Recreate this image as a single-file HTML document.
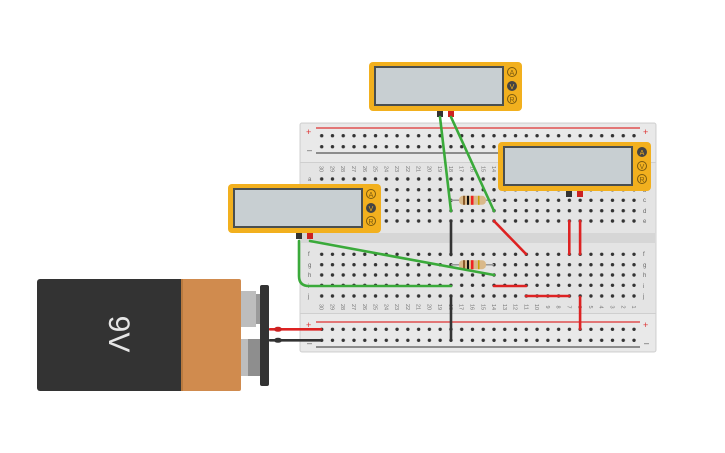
<!DOCTYPE html>
<html><head><meta charset="utf-8"><style>html,body{margin:0;padding:0;background:#fff}svg{display:block}</style></head>
<body>
<svg width="725" height="453" viewBox="0 0 725 453" xmlns="http://www.w3.org/2000/svg" font-family="Liberation Sans, sans-serif">
<defs>
<pattern id="hole" x="316.3" y="0" width="10.77" height="453" patternUnits="userSpaceOnUse">
<g fill="#333">
<circle cx="5.4" cy="135.7" r="1.7"/><circle cx="5.4" cy="146.7" r="1.7"/>
<circle cx="5.4" cy="179" r="1.7"/><circle cx="5.4" cy="189.7" r="1.7"/><circle cx="5.4" cy="200.3" r="1.7"/><circle cx="5.4" cy="210.7" r="1.7"/><circle cx="5.4" cy="221" r="1.7"/>
<circle cx="5.4" cy="254.3" r="1.7"/><circle cx="5.4" cy="264.7" r="1.7"/><circle cx="5.4" cy="275" r="1.7"/><circle cx="5.4" cy="285.3" r="1.7"/><circle cx="5.4" cy="296" r="1.7"/>
<circle cx="5.4" cy="329.3" r="1.7"/><circle cx="5.4" cy="340.3" r="1.7"/>
</g>
</pattern>
</defs>
<!-- breadboard -->
<rect x="300" y="123" width="356" height="229" rx="2" fill="#e4e4e4" stroke="#d0d0d0"/>
<rect x="301" y="124" width="354" height="38" fill="#e9e9e9"/>
<rect x="301" y="313" width="354" height="38" fill="#e9e9e9"/>
<line x1="300" y1="162.5" x2="656" y2="162.5" stroke="#cfcfcf"/>
<line x1="300" y1="313.5" x2="656" y2="313.5" stroke="#cfcfcf"/>
<rect x="301" y="233" width="354" height="10" fill="#d6d6d6"/>
<line x1="316" y1="128" x2="640" y2="128" stroke="#d33" stroke-width="1.2"/>
<line x1="316" y1="153" x2="640" y2="153" stroke="#555" stroke-width="1.2"/>
<line x1="316" y1="322" x2="640" y2="322" stroke="#d33" stroke-width="1.2"/>
<line x1="316" y1="347" x2="640" y2="347" stroke="#555" stroke-width="1.2"/>
<g font-size="9" fill="#d33"><text x="306" y="135">+</text><text x="643" y="135">+</text><text x="306" y="328">+</text><text x="643" y="328">+</text></g>
<g font-size="9" fill="#555"><text x="307" y="153">–</text><text x="644" y="153">–</text><text x="307" y="346">–</text><text x="644" y="346">–</text></g>
<rect x="316.3" y="125" width="323" height="225" fill="url(#hole)"/>
<g font-size="6" fill="#666">
<text x="308" y="181">a</text><text x="308" y="192">b</text><text x="308" y="202">c</text><text x="308" y="213">d</text><text x="308" y="223">e</text>
<text x="308" y="256">f</text><text x="308" y="267">g</text><text x="308" y="277">h</text><text x="308" y="288">i</text><text x="308" y="298">j</text>
<text x="643" y="181">a</text><text x="643" y="192">b</text><text x="643" y="202">c</text><text x="643" y="213">d</text><text x="643" y="223">e</text>
<text x="643" y="256">f</text><text x="643" y="267">g</text><text x="643" y="277">h</text><text x="643" y="288">i</text><text x="643" y="298">j</text>
</g>
<g font-size="5.5" fill="#777" text-anchor="middle">
<text transform="translate(321.7,169) rotate(90)" dy="2">30</text><text transform="translate(332.5,169) rotate(90)" dy="2">29</text><text transform="translate(343.2,169) rotate(90)" dy="2">28</text><text transform="translate(354.0,169) rotate(90)" dy="2">27</text><text transform="translate(364.8,169) rotate(90)" dy="2">26</text><text transform="translate(375.6,169) rotate(90)" dy="2">25</text><text transform="translate(386.3,169) rotate(90)" dy="2">24</text><text transform="translate(397.1,169) rotate(90)" dy="2">23</text><text transform="translate(407.9,169) rotate(90)" dy="2">22</text><text transform="translate(418.6,169) rotate(90)" dy="2">21</text><text transform="translate(429.4,169) rotate(90)" dy="2">20</text><text transform="translate(440.2,169) rotate(90)" dy="2">19</text><text transform="translate(450.9,169) rotate(90)" dy="2">18</text><text transform="translate(461.7,169) rotate(90)" dy="2">17</text><text transform="translate(472.5,169) rotate(90)" dy="2">16</text><text transform="translate(483.3,169) rotate(90)" dy="2">15</text><text transform="translate(494.0,169) rotate(90)" dy="2">14</text><text transform="translate(504.8,169) rotate(90)" dy="2">13</text><text transform="translate(515.6,169) rotate(90)" dy="2">12</text><text transform="translate(526.3,169) rotate(90)" dy="2">11</text><text transform="translate(537.1,169) rotate(90)" dy="2">10</text><text transform="translate(547.9,169) rotate(90)" dy="2">9</text><text transform="translate(558.7,169) rotate(90)" dy="2">8</text><text transform="translate(569.4,169) rotate(90)" dy="2">7</text><text transform="translate(580.2,169) rotate(90)" dy="2">6</text><text transform="translate(591.0,169) rotate(90)" dy="2">5</text><text transform="translate(601.7,169) rotate(90)" dy="2">4</text><text transform="translate(612.5,169) rotate(90)" dy="2">3</text><text transform="translate(623.3,169) rotate(90)" dy="2">2</text><text transform="translate(634.0,169) rotate(90)" dy="2">1</text>
<text transform="translate(321.7,307) rotate(90)" dy="2">30</text><text transform="translate(332.5,307) rotate(90)" dy="2">29</text><text transform="translate(343.2,307) rotate(90)" dy="2">28</text><text transform="translate(354.0,307) rotate(90)" dy="2">27</text><text transform="translate(364.8,307) rotate(90)" dy="2">26</text><text transform="translate(375.6,307) rotate(90)" dy="2">25</text><text transform="translate(386.3,307) rotate(90)" dy="2">24</text><text transform="translate(397.1,307) rotate(90)" dy="2">23</text><text transform="translate(407.9,307) rotate(90)" dy="2">22</text><text transform="translate(418.6,307) rotate(90)" dy="2">21</text><text transform="translate(429.4,307) rotate(90)" dy="2">20</text><text transform="translate(440.2,307) rotate(90)" dy="2">19</text><text transform="translate(450.9,307) rotate(90)" dy="2">18</text><text transform="translate(461.7,307) rotate(90)" dy="2">17</text><text transform="translate(472.5,307) rotate(90)" dy="2">16</text><text transform="translate(483.3,307) rotate(90)" dy="2">15</text><text transform="translate(494.0,307) rotate(90)" dy="2">14</text><text transform="translate(504.8,307) rotate(90)" dy="2">13</text><text transform="translate(515.6,307) rotate(90)" dy="2">12</text><text transform="translate(526.3,307) rotate(90)" dy="2">11</text><text transform="translate(537.1,307) rotate(90)" dy="2">10</text><text transform="translate(547.9,307) rotate(90)" dy="2">9</text><text transform="translate(558.7,307) rotate(90)" dy="2">8</text><text transform="translate(569.4,307) rotate(90)" dy="2">7</text><text transform="translate(580.2,307) rotate(90)" dy="2">6</text><text transform="translate(591.0,307) rotate(90)" dy="2">5</text><text transform="translate(601.7,307) rotate(90)" dy="2">4</text><text transform="translate(612.5,307) rotate(90)" dy="2">3</text><text transform="translate(623.3,307) rotate(90)" dy="2">2</text><text transform="translate(634.0,307) rotate(90)" dy="2">1</text>
</g>
<!-- multimeter right -->
<g>
<rect x="498" y="142" width="153" height="49" rx="4" fill="#f2b01e"/>
<rect x="504" y="147" width="128" height="38" fill="#c8cfd2" stroke="#4a4f50" stroke-width="2"/>
<circle cx="642" cy="152" r="5" fill="#444"/><text x="642" y="155" font-size="7" fill="#f2b01e" text-anchor="middle">A</text>
<circle cx="642" cy="166" r="4.5" fill="none" stroke="#7a5a10"/><text x="642" y="169" font-size="7" fill="#7a5a10" text-anchor="middle">V</text>
<circle cx="642" cy="179" r="4.5" fill="none" stroke="#7a5a10"/><text x="642" y="182" font-size="7" fill="#7a5a10" text-anchor="middle">R</text>
<rect x="566" y="191" width="6" height="6" fill="#333"/><rect x="577" y="191" width="6" height="6" fill="#c22"/>
</g>
<!-- multimeter left -->
<g>
<rect x="228" y="184" width="153" height="49" rx="4" fill="#f2b01e"/>
<rect x="234" y="189" width="128" height="38" fill="#c8cfd2" stroke="#4a4f50" stroke-width="2"/>
<circle cx="371" cy="194" r="4.5" fill="none" stroke="#7a5a10"/><text x="371" y="197" font-size="7" fill="#7a5a10" text-anchor="middle">A</text>
<circle cx="371" cy="208" r="5" fill="#444"/><text x="371" y="211" font-size="7" fill="#f2b01e" text-anchor="middle">V</text>
<circle cx="371" cy="221" r="4.5" fill="none" stroke="#7a5a10"/><text x="371" y="224" font-size="7" fill="#7a5a10" text-anchor="middle">R</text>
<rect x="296" y="233" width="6" height="6" fill="#333"/><rect x="307" y="233" width="6" height="6" fill="#c22"/>
</g>
<!-- multimeter top -->
<g>
<rect x="369" y="62" width="153" height="49" rx="4" fill="#f2b01e"/>
<rect x="375" y="67" width="128" height="38" fill="#c8cfd2" stroke="#4a4f50" stroke-width="2"/>
<circle cx="512" cy="72" r="4.5" fill="none" stroke="#7a5a10"/><text x="512" y="75" font-size="7" fill="#7a5a10" text-anchor="middle">A</text>
<circle cx="512" cy="86" r="5" fill="#444"/><text x="512" y="89" font-size="7" fill="#f2b01e" text-anchor="middle">V</text>
<circle cx="512" cy="99" r="4.5" fill="none" stroke="#7a5a10"/><text x="512" y="102" font-size="7" fill="#7a5a10" text-anchor="middle">R</text>
<rect x="437" y="111" width="6" height="6" fill="#333"/><rect x="448" y="111" width="6" height="6" fill="#c22"/>
</g>
<!-- resistors -->
<g>
<line x1="451" y1="200.3" x2="494" y2="200.3" stroke="#999" stroke-width="1.5"/>
<rect x="459" y="195.8" width="27" height="9" rx="4" fill="#d9b98a"/>
<rect x="463" y="195.8" width="2" height="9" fill="#8a5a2a"/><rect x="467" y="195.8" width="2" height="9" fill="#111"/><rect x="471" y="195.8" width="2.5" height="9" fill="#e22"/><rect x="478" y="195.8" width="1.5" height="9" fill="#c9a000"/>
<line x1="451" y1="264.7" x2="494" y2="264.7" stroke="#999" stroke-width="1.5"/>
<rect x="459" y="260.2" width="27" height="9" rx="4" fill="#d9b98a"/>
<rect x="463" y="260.2" width="2" height="9" fill="#8a5a2a"/><rect x="467" y="260.2" width="2" height="9" fill="#111"/><rect x="471" y="260.2" width="2.5" height="9" fill="#e22"/><rect x="478" y="260.2" width="1.5" height="9" fill="#c9a000"/>
</g>
<!-- wires -->
<g stroke-width="2.6" fill="none" stroke-linecap="round">
<line x1="451" y1="221" x2="451" y2="255" stroke="#333"/>
<line x1="451" y1="297" x2="451" y2="340" stroke="#333"/>
<line x1="494" y1="221" x2="526" y2="254" stroke="#d22"/>
<line x1="569.3" y1="221" x2="569.3" y2="254" stroke="#d22"/>
<line x1="580.1" y1="221" x2="580.1" y2="254" stroke="#d22"/>
<line x1="494" y1="286" x2="526" y2="286" stroke="#d22"/>
<line x1="526" y1="296" x2="569" y2="296" stroke="#d22"/>
<line x1="580.1" y1="297" x2="580.1" y2="329" stroke="#d22"/>
<line x1="440" y1="117" x2="451" y2="211" stroke="#3aaa3a"/>
<line x1="451" y1="117" x2="494" y2="211" stroke="#3aaa3a"/>
<line x1="310" y1="241" x2="494" y2="275" stroke="#3aaa3a"/>
<path d="M299 241 V276 Q299 286 309 286 H451" stroke="#3aaa3a"/>
<line x1="270" y1="329.3" x2="321" y2="329.3" stroke="#d22"/>
<line x1="270" y1="340.3" x2="321" y2="340.3" stroke="#333"/>
</g>
<ellipse cx="278" cy="329.3" rx="4" ry="2.5" fill="#c22"/>
<ellipse cx="278" cy="340.3" rx="4" ry="2.5" fill="#333"/>
<!-- battery -->
<rect x="37" y="279" width="150" height="112" rx="3" fill="#333"/>
<rect x="181" y="279" width="60" height="112" rx="2" fill="#d08b4e"/>
<rect x="181" y="279" width="2" height="112" fill="#b87a40"/>
<rect x="241" y="291" width="15" height="36" fill="#bdbdbd"/>
<rect x="256" y="294" width="5" height="30" fill="#9a9a9a"/>
<rect x="241" y="339" width="8" height="37" fill="#bdbdbd"/>
<rect x="248" y="339" width="13" height="37" fill="#8e8e8e"/>
<rect x="260" y="285" width="9" height="101" rx="2" fill="#333"/>
<text x="0" y="0" font-size="30" fill="#e6e6e6" text-anchor="middle" transform="translate(109,334) rotate(90)">9V</text>
</svg>
</body></html>
